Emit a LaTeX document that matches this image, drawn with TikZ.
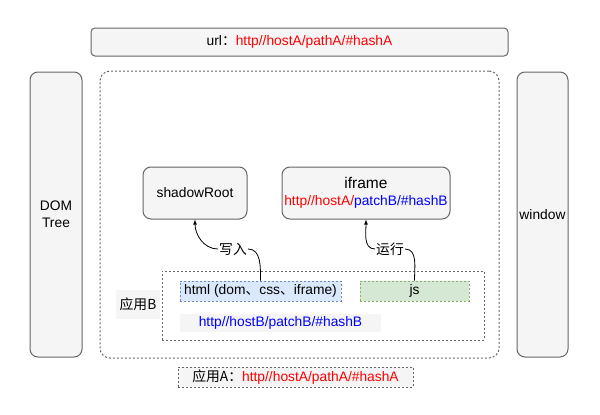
\documentclass[tikz,border=0pt]{standalone}
\usepackage{fontspec}
\setmainfont{Liberation Sans}
\newfontfamily\cjk{Noto Sans CJK SC}
\usepackage{xcolor}
\usetikzlibrary{arrows}
\definecolor{boxfill}{HTML}{F5F5F5}
\definecolor{boxline}{HTML}{666666}
\definecolor{htmlfill}{HTML}{DAE8FC}
\definecolor{htmlline}{HTML}{6C8EBF}
\definecolor{jsfill}{HTML}{D5E8D4}
\definecolor{jsline}{HTML}{82B366}
\definecolor{hostred}{HTML}{FF0000}
\definecolor{pathblue}{HTML}{0000FF}
\begin{document}
\begin{tikzpicture}[>=latex, x=1pt, y=-1pt,
	font=\fontsize{13.8}{17}\selectfont,
	box/.style={draw=boxline, fill=boxfill, line width=1pt, rounded corners=8pt, align=center, inner sep=0pt},
	frame/.style={draw=boxline, line width=1pt, dash pattern=on 2pt off 2pt, inner sep=0pt},
	tag/.style={fill=white, inner sep=1pt}]
	\useasboundingbox (0,0) rectangle (600,415);
	%url
	\node [box, rounded corners=4pt, minimum width=417, minimum height=28] (url) at (299.5,42)
		{url{\cjk ：}\textcolor{hostred}{http//hostA/pathA/\#hashA}};
	%DOM Tree e window
	\node [box, minimum width=52, minimum height=285] (dom) at (56,214.5) {DOM\\Tree};
	\node [box, minimum width=51, minimum height=285] (window) at (542.5,214.5) {window};
	%Contenitore A
	\node [frame, rounded corners=10pt, minimum width=399, minimum height=287] (appA) at (299.5,214.5) {};
	\node [frame, fill=boxfill, minimum width=235, minimum height=20] (appAlabel) at (295.5,377)
		{{\cjk 应用A：}\textcolor{hostred}{http//hostA/pathA/\#hashA}};
	%shadowRoot e iframe
	\node [box, minimum width=104, minimum height=52] (shadow) at (195,193) {shadowRoot};
	\node [box, minimum width=168, minimum height=52] (iframe) at (366,193)
		{{\fontsize{15.5}{17}\selectfont iframe}\\\textcolor{hostred}{http//hostA/}\textcolor{pathblue}{patchB/\#hashB}};
	%Contenitore B
	\node [frame, minimum width=322, minimum height=69] (appB) at (323,305.5) {};
	\node [fill=boxfill, inner sep=0pt, minimum width=44, minimum height=29] (appBlabel) at (138,304.5) {\cjk 应用B};
	\node [frame, draw=htmlline, fill=htmlfill, minimum width=161, minimum height=20] (html) at (260.5,291)
		{html (dom{\cjk 、}css{\cjk 、}iframe)};
	\node [frame, draw=jsline, fill=jsfill, minimum width=109, minimum height=20] (js) at (414.5,291) {js};
	\node [fill=boxfill, inner sep=0pt, minimum width=201, minimum height=18, text=pathblue] (urlB) at (280.5,323)
		{http//hostB/patchB/\#hashB};
	%Collegamenti
	\node [tag] (write) at (233,249) {\cjk 写入};
	\node [tag] (run) at (390,249) {\cjk 运行};
	\draw [line width=0.8pt] (html.north) to [out=90, in=0] (write.east);
	\draw [->, line width=0.8pt] (write.west) to [out=180, in=-90] (shadow.south);
	\draw [line width=0.8pt] (js.north) to [out=90, in=0] (run.east);
	\draw [->, line width=0.8pt] (run.west) to [out=180, in=-90] (iframe.south);
\end{tikzpicture}
\end{document}
